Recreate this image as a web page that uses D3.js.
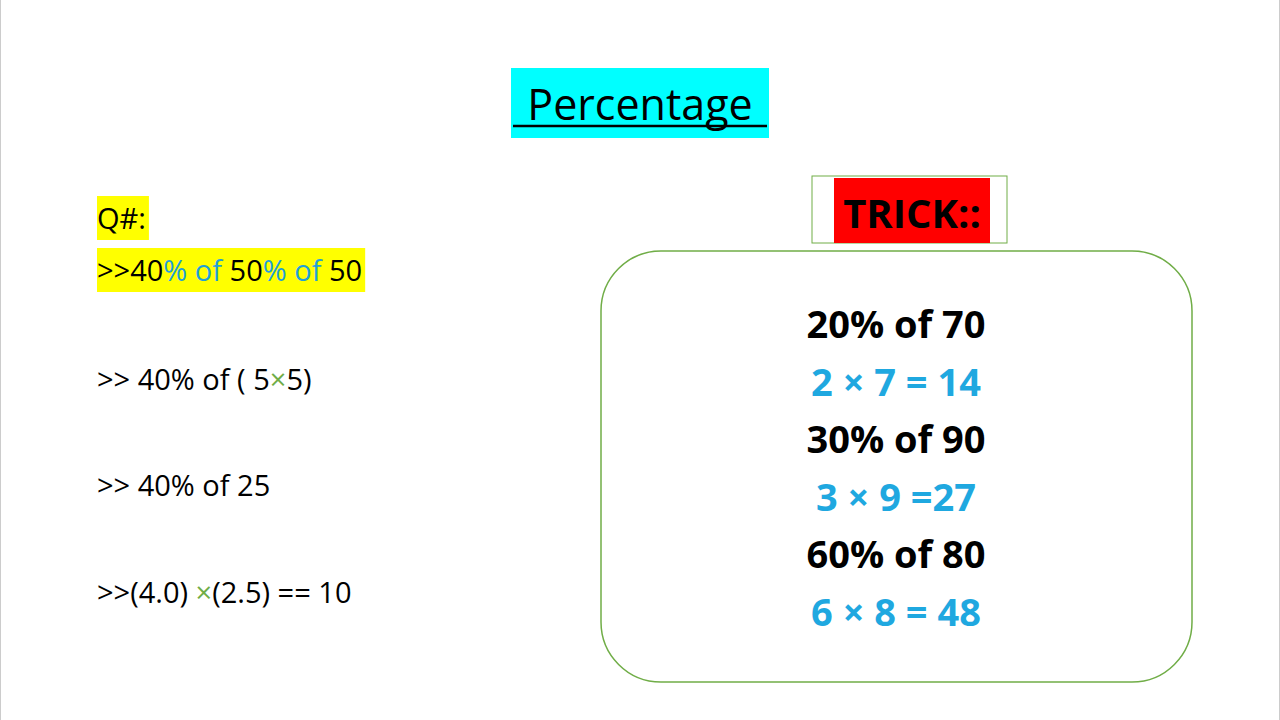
<!DOCTYPE html>
<html><head><meta charset="utf-8">
<script src="https://cdn.jsdelivr.net/npm/d3@7"></script>
<style>body{margin:0;background:#fff}svg{display:block}</style>
</head><body>
<svg id="slide" width="1280" height="720"></svg>
<script>
// スライドのテキスト
var title = 'Percentage';
var trickLabel = 'TRICK::';
// 左側の行: [テキスト, 色] の組
var leftLines = [
  [['Q#:', '#000']],
  [['>>40', '#000'], ['% of ', '#1fa0d8'], ['50', '#000'], ['% of ', '#1fa0d8'], ['50', '#000']],
  [['>> 40% of ( 5', '#000'], ['×', '#70ad47'], ['5)', '#000']],
  [['>> 40% of 25', '#000']],
  [['>>(4.0) ', '#000'], ['×', '#70ad47'], ['(2.5) == 10', '#000']]
];
var leftY = [229, 281, 390, 496, 603];
var highlight = [true, true, false, false, false];
var trickLines = ['20% of 70', '2 × 7 = 14', '30% of 90', '3 × 9 =27', '60% of 80', '6 × 8 = 48'];
var trickColors = ['#000', '#1fa8e0', '#000', '#1fa8e0', '#000', '#1fa8e0'];

var svg = d3.select('#slide');
var font = '"Open Sans", "Liberation Sans", sans-serif';

svg.append('rect').attr('x', 0.5).attr('y', -1).attr('width', 1279).attr('height', 722)
  .attr('fill', 'none').attr('stroke', '#ccc');

// タイトル
svg.append('rect').attr('x', 511).attr('y', 68).attr('width', 258).attr('height', 70).attr('fill', '#00ffff');
svg.append('text').attr('x', 640).attr('y', 120).attr('text-anchor', 'middle')
  .attr('font-family', font).attr('font-size', 43)
  .text(title);
svg.append('line').attr('x1', 513).attr('x2', 767).attr('y1', 126).attr('y2', 126).attr('stroke', '#000').attr('stroke-width', 2.5);

// 左側
var g = svg.append('g');
leftLines.forEach(function(parts, i) {
  var t = g.append('text').attr('x', 97).attr('y', leftY[i])
    .attr('font-family', font).attr('font-size', 29);
  parts.forEach(function(p) {
    t.append('tspan').attr('fill', p[1]).attr('xml:space', 'preserve').text(p[0]);
  });
  if (highlight[i]) {
    var b = t.node().getBBox();
    g.insert('rect', 'text').attr('x', 97).attr('y', leftY[i] - 33)
      .attr('width', b.width + 3).attr('height', 44).attr('fill', '#ffff00');
  }
});

// TRICK ラベル
svg.append('rect').attr('x', 812).attr('y', 176).attr('width', 195).attr('height', 67)
  .attr('fill', 'none').attr('stroke', '#70ad47');
svg.append('rect').attr('x', 834).attr('y', 178).attr('width', 156).attr('height', 65).attr('fill', '#ff0000');
svg.append('text').attr('x', 912).attr('y', 228).attr('text-anchor', 'middle')
  .attr('font-family', font).attr('font-weight', 'bold').attr('font-size', 40).text(trickLabel);

// 角丸の枠
svg.append('rect').attr('x', 601).attr('y', 251).attr('width', 591).attr('height', 431)
  .attr('rx', 60).attr('fill', 'none').attr('stroke', '#70ad47').attr('stroke-width', 1.5);

var y = d3.scalePoint().domain(d3.range(trickLines.length)).range([338, 626]);
svg.selectAll('text.trick').data(trickLines).enter().append('text')
  .attr('class', 'trick')
  .attr('x', 896).attr('y', function(d, i) { return y(i); })
  .attr('text-anchor', 'middle').attr('font-family', font).attr('font-weight', 'bold')
  .attr('font-size', 38).attr('fill', function(d, i) { return trickColors[i]; })
  .text(function(d) { return d; });
</script>
</body></html>
